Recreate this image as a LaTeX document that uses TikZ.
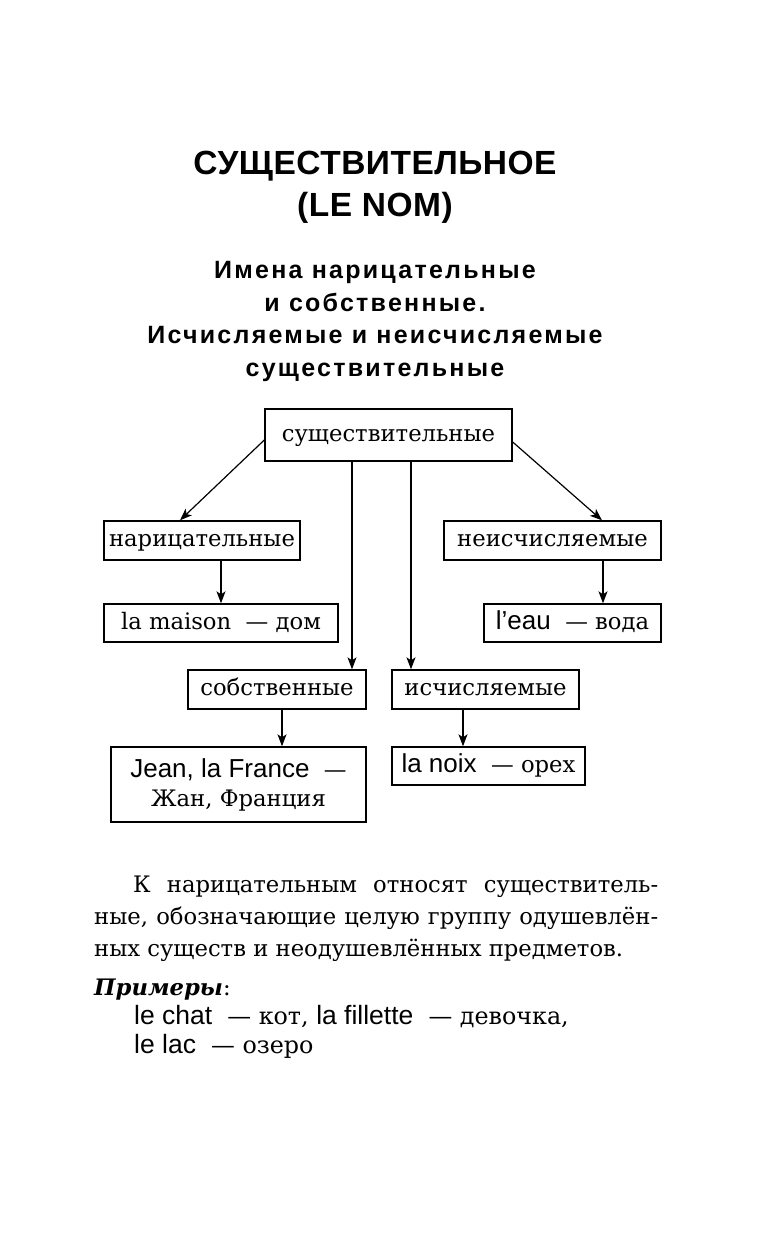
\documentclass[tikz,border=0pt]{standalone}
\usepackage{fontspec}
\setmainfont{DejaVu Serif}
\newfontfamily\sansf{Liberation Sans}
\newfontfamily\ttlf[LetterSpace=1.5]{Liberation Sans}
\newfontfamily\subf[LetterSpace=9]{Liberation Sans}
\newcommand{\lat}[1]{{\sansf\fontsize{26}{28}\selectfont #1}}
\newcommand{\blat}[1]{{\sansf\fontsize{26.5}{28}\selectfont #1}}
\usetikzlibrary{arrows.meta}
\begin{document}
\begin{tikzpicture}[x=1pt,y=-1pt,
  box/.style={draw, line width=1.4pt, inner sep=0pt, font=\fontsize{22.7}{27}\selectfont, align=center, text height=12pt, text depth=0pt},
  box2/.style={draw, line width=1.4pt, inner sep=0pt, font=\fontsize{22.7}{27}\selectfont, align=center},
  arr/.style={-{Stealth[length=12pt,width=9pt,inset=3pt]}, line width=1.2pt},
  ttl/.style={anchor=base, inner sep=0pt, font=\ttlf\bfseries\fontsize{33.5}{38}\selectfont},
  sub/.style={anchor=base, inner sep=0pt, font=\subf\bfseries\fontsize{25}{28}\selectfont},
  body/.style={anchor=base west, inner sep=0pt, font=\fontsize{22.7}{27}\selectfont},
  body2/.style={anchor=base west, inner sep=0pt, font=\fontsize{23.8}{27}\selectfont}]
\useasboundingbox[fill=white] (0,0) rectangle (768,1240);
% titles
\node[ttl] (t1) at (375,174) {СУЩЕСТВИТЕЛЬНОЕ};
\node[ttl] (t2) at (375,216) {(LE NOM)};
\node[sub] (s1) at (375,278) {Имена нарицательные};
\node[sub] (s2) at (375,311) {и собственные.};
\node[sub] (s3) at (375,343) {Исчисляемые и неисчисляемые};
\node[sub] (s4) at (375,376) {существительные};
% boxes
\node[box, minimum width=247pt, minimum height=52pt] (top) at (388.5,435) {существительные};
\node[box, minimum width=196pt, minimum height=39pt] (nar) at (202,540.5) {нарицательные};
\node[box, minimum width=217pt, minimum height=39pt] (nei) at (552.5,540.5) {неисчисляемые};
\node[box, minimum width=234pt, minimum height=38pt] (mai) at (221,623) {la maison~~— дом};
\node[box, minimum width=177pt, minimum height=38pt] (eau) at (572.5,623) {\lat{l’eau}~~— вода};
\node[box, minimum width=178pt, minimum height=39pt] (sob) at (277,689.5) {собственные};
\node[box, minimum width=187pt, minimum height=39pt] (isc) at (485.5,689.5) {исчисляемые};
\node[box2, minimum width=255pt, minimum height=75pt] (jea) at (238.5,784.5) {\lat{Jean, la France}~~—\\[2pt] Жан, Франция};
\node[box, minimum width=193pt, minimum height=38pt] (noi) at (488.5,766) {\lat{la noix}~~— орех};
% connectors
\draw[arr] ([yshift=-5pt]top.west) -- ([xshift=-22pt]nar.north);
\draw[arr] ([yshift=-7pt]top.east) -- ([xshift=49.5pt]nei.north);
\draw[arr] ([xshift=-36.5pt]top.south) -- ([xshift=-36.5pt]top.south |- sob.north);
\draw[arr] ([xshift=22.5pt]top.south) -- ([xshift=22.5pt]top.south |- isc.north);
\draw[arr] (nar.south -| mai.north) -- (mai.north);
\draw[arr] ([xshift=50.5pt]nei.south) -- ([xshift=50.5pt]nei.south |- eau.north);
\draw[arr] ([xshift=5pt]sob.south) -- ([xshift=5pt]sob.south |- jea.north);
\draw[arr] ([xshift=-22.5pt]isc.south) -- ([xshift=-22.5pt]isc.south |- noi.north);
% body text
\node[body] (b1) at (133,892) {\makebox[525pt][s]{К нарицательным относят существитель-}};
\node[body] (b2) at (94,924) {\makebox[564pt][s]{ные, обозначающие целую группу одушевлён-}};
\node[body] (b3) at (94,956) {ных существ и неодушевлённых предметов.};
\node[body] (b4) at (94,995) {\textbf{\textit{Примеры}}:};
\node[body2] (b5) at (134,1024) {\blat{le chat}~~— кот, \blat{la fillette}~~— девочка,};
\node[body2] (b6) at (134,1053) {\blat{le lac}~~— озеро};
\end{tikzpicture}
\end{document}
